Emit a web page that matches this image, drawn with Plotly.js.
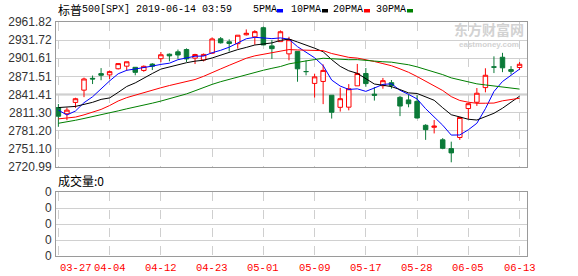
<!DOCTYPE html>
<html><head><meta charset="utf-8">
<script src="https://cdn.plot.ly/plotly-3.0.1.min.js"></script>
<style>html,body{margin:0;padding:0;background:#fff;}#chart{width:578px;height:276px;}</style>
</head><body><div id="chart"></div>
<script>
// ---- data ----
const dates = ['03-27','03-28','03-29','04-01','04-02','04-03','04-04','04-05','04-08','04-09','04-10','04-11','04-12','04-15','04-16','04-17','04-18','04-22','04-23','04-24','04-25','04-26','04-29','04-30','05-01','05-02','05-03','05-06','05-07','05-08','05-09','05-10','05-13','05-14','05-15','05-16','05-17','05-20','05-21','05-22','05-23','05-24','05-28','05-29','05-30','05-31','06-03','06-04','06-05','06-06','06-07','06-10','06-11','06-12','06-13'];
const openP  = [2819.72,2809.40,2828.27,2848.63,2868.24,2876.09,2873.99,2884.16,2888.46,2886.58,2881.37,2891.92,2900.86,2908.32,2912.26,2916.04,2901.80,2898.78,2909.99,2934.00,2928.99,2925.81,2940.58,2937.14,2952.33,2922.16,2929.21,2908.89,2913.03,2879.61,2859.84,2863.10,2840.19,2820.12,2820.38,2855.80,2876.30,2841.94,2856.00,2861.00,2836.70,2832.41,2830.03,2790.25,2786.94,2766.15,2751.53,2770.00,2818.09,2828.51,2852.87,2887.50,2903.27,2882.73,2886.24];
const highP  = [2825.56,2819.71,2836.03,2869.40,2872.90,2885.25,2881.28,2893.24,2895.95,2886.88,2889.71,2893.42,2912.00,2909.60,2916.06,2918.00,2909.00,2909.51,2936.31,2936.83,2933.10,2939.88,2949.52,2948.22,2954.13,2931.68,2947.85,2937.32,2913.03,2897.96,2875.97,2891.31,2840.19,2852.54,2858.68,2892.15,2885.48,2853.86,2868.88,2865.47,2839.00,2841.36,2840.51,2792.03,2799.00,2768.98,2763.07,2804.49,2827.28,2852.10,2884.97,2904.77,2910.61,2888.57,2895.24];
const lowP   = [2787.72,2798.77,2819.23,2837.00,2858.75,2865.17,2867.14,2882.99,2880.78,2873.33,2879.13,2881.99,2895.00,2896.48,2900.71,2895.45,2892.00,2896.35,2908.53,2926.05,2912.84,2917.56,2939.35,2924.11,2923.36,2900.50,2929.21,2898.21,2862.60,2873.28,2836.40,2825.39,2801.43,2813.00,2815.08,2855.80,2854.23,2831.29,2851.00,2851.11,2805.49,2820.19,2801.58,2766.06,2776.74,2750.52,2728.81,2766.00,2800.92,2822.45,2845.00,2877.00,2878.53,2874.68,2881.99];
const closeP = [2805.37,2815.44,2834.40,2867.19,2867.24,2873.40,2879.39,2892.74,2895.77,2878.20,2888.21,2888.32,2907.41,2905.58,2907.06,2900.45,2907.80,2907.97,2933.68,2927.25,2926.17,2939.88,2943.03,2945.83,2923.73,2917.52,2945.64,2932.47,2884.05,2879.42,2870.72,2881.40,2811.87,2834.41,2850.96,2876.32,2859.53,2840.23,2864.36,2856.27,2822.24,2826.06,2802.39,2783.02,2788.86,2752.06,2744.45,2803.27,2826.15,2843.49,2873.34,2886.73,2885.72,2879.84,2891.64];
const ma5  = [2815.4,2807.4,2814.0,2827.8,2837.6,2851.2,2864.0,2875.8,2881.6,2883.8,2886.8,2888.6,2891.4,2893.4,2899.2,2901.6,2905.0,2905.2,2910.8,2914.8,2920.0,2927.0,2934.0,2936.4,2935.8,2934.2,2935.4,2933.2,2920.8,2911.8,2902.4,2889.4,2865.4,2855.4,2849.8,2850.8,2846.6,2852.2,2858.2,2859.2,2848.4,2841.6,2834.0,2817.8,2804.4,2790.4,2774.0,2774.2,2782.8,2793.6,2817.8,2846.4,2863.0,2873.8,2883.6];
const ma10 = [2819.7,2820.4,2821.6,2825.0,2828.4,2833.3,2835.7,2844.9,2854.7,2860.7,2869.0,2876.3,2883.6,2887.5,2891.5,2894.2,2896.8,2898.3,2902.1,2907.0,2910.8,2916.0,2919.6,2923.6,2925.3,2927.1,2931.2,2933.6,2928.6,2923.8,2918.3,2912.4,2899.3,2888.1,2880.8,2876.6,2868.0,2858.8,2856.8,2854.5,2849.6,2844.1,2843.1,2838.0,2831.8,2819.4,2807.8,2804.1,2800.3,2799.0,2804.1,2810.2,2818.6,2828.3,2838.6];
const ma20 = [2800.9,2802.4,2803.9,2807.6,2811.5,2816.6,2823.1,2830.6,2836.2,2840.5,2844.4,2848.4,2852.6,2856.3,2860.0,2863.8,2866.3,2871.6,2878.4,2883.9,2889.9,2896.2,2901.6,2905.6,2908.4,2910.7,2914.0,2916.0,2915.4,2915.4,2914.6,2914.2,2909.5,2905.9,2903.1,2901.9,2899.6,2896.2,2892.7,2889.2,2884.0,2878.3,2871.2,2863.1,2856.3,2848.0,2837.9,2831.5,2828.6,2826.8,2826.9,2827.2,2830.9,2833.2,2835.2];
const ma30 = [2793.6,2795.6,2798.6,2801.6,2804.5,2807.4,2810.9,2814.2,2817.6,2820.4,2823.6,2827.0,2830.5,2834.2,2838.1,2842.4,2847.6,2853.1,2858.2,2862.7,2866.5,2870.9,2874.9,2878.7,2881.7,2884.9,2887.9,2892.3,2895.1,2897.2,2899.4,2901.6,2900.8,2899.7,2899.2,2899.3,2898.7,2896.9,2895.8,2895.1,2892.9,2890.8,2887.3,2883.2,2879.3,2874.4,2869.0,2865.5,2861.9,2859.1,2857.3,2855.6,2853.7,2851.5,2850.4];
const volume = [0,0,0,0,0,0,0,0,0,0,0,0,0,0,0,0,0,0,0,0,0,0,0,0,0,0,0,0,0,0,0,0,0,0,0,0,0,0,0,0,0,0,0,0,0,0,0,0,0,0,0,0,0,0,0];
const yTicks = [2720.99,2751.10,2781.20,2811.30,2841.41,2871.51,2901.61,2931.72,2961.82];
const dateTicks = ['03-27','04-04','04-12','04-23','05-01','05-09','05-17','05-28','06-05','06-13'];
const volTicks = [0,1,2,3,4];
const volTickText = ['0','0','0','0','0'];
const maNames = ['5PMA','10PMA','20PMA','30PMA'];
const maColors = ['#0000ff','#000000','#ff0000','#008000'];
const titleCJK = '标普';
const titleRest = '500[SPX] 2019-06-14 03:59';
const volLabel = '成交量:0';

// ---- layout helpers (pixels -> paper) ----
const W = 578, H = 276, M = {l:56, r:51, t:22, b:20};
const pw = W - M.l - M.r, ph = H - M.t - M.b;
const px = x => (x - M.l) / pw;
const py = y => (H - M.b - y) / ph;

const upColor = '#ff0000', downColor = '#0b7a38';
const traces = [
  {type:'candlestick', x:dates, open:openP, high:highP, low:lowP, close:closeP,
   xaxis:'x', yaxis:'y', whiskerwidth:0, hoverinfo:'skip', showlegend:false,
   increasing:{line:{color:upColor, width:1}, fillcolor:'#ffffff'},
   decreasing:{line:{color:downColor, width:1}, fillcolor:downColor}}
];
[ma5, ma10, ma20, ma30].forEach((m, i) => traces.push({
  type:'scatter', mode:'lines', x:dates, y:m, xaxis:'x', yaxis:'y',
  line:{color:maColors[i], width:1}, hoverinfo:'skip', showlegend:false
}));
traces.push({type:'bar', x:dates, y:volume, xaxis:'x2', yaxis:'y2', marker:{color:'#888', line:{width:0}}, hoverinfo:'skip', showlegend:false});

const xRange = [-0.28, dates.length - 1 + 0.87];
const axisLine = {showline:true, mirror:true, linecolor:'#9a9a9a', linewidth:1, zeroline:false, ticks:'', automargin:false, fixedrange:true};
const tickFont = {family:'Liberation Sans, Arial, sans-serif', size:12, color:'#333'};
const xCommon = Object.assign({}, axisLine, {type:'category', range:xRange, showticklabels:false,
  tickmode:'array', tickvals:dateTicks, showgrid:true, gridcolor:'#cfcfcf', griddash:'dash', gridwidth:1,
  rangeslider:{visible:false}});

const annotations = [
  {xref:'paper', yref:'paper', x:px(57), y:py(10), xanchor:'left', yanchor:'middle', text:titleCJK, showarrow:false, borderpad:0,
   font:{family:'Noto Sans CJK SC', size:12, color:'#000'}},
  {xref:'paper', yref:'paper', x:px(81), y:py(10), xanchor:'left', yanchor:'middle', text:titleRest, showarrow:false, borderpad:0,
   font:{family:'Liberation Mono, monospace', size:10, color:'#000'}},
  {xref:'paper', yref:'paper', x:px(57), y:py(180), xanchor:'left', yanchor:'middle', text:volLabel, showarrow:false, borderpad:0,
   font:{family:'Noto Sans CJK SC', size:12, color:'#000'}},
  {xref:'paper', yref:'paper', x:px(489), y:py(29), xanchor:'center', yanchor:'middle', text:'东方财富网', showarrow:false, borderpad:0,
   font:{family:'Noto Sans CJK SC', size:14, color:'#d2d2d2', weight:'bold'}},
  {xref:'paper', yref:'paper', x:px(489), y:py(44.5), xanchor:'center', yanchor:'middle', text:'eastmoney.com', showarrow:false, borderpad:0,
   font:{family:'Liberation Sans, Arial', size:8, color:'#d2d2d2', weight:'bold'}}
];
const legendX = [252, 290, 332, 375];
const swatchX = [277, 322, 364, 407];
const shapes = [
  {type:'line', xref:'paper', yref:'y', x0:0, x1:1, y0:yTicks[4], y1:yTicks[4], line:{color:'#8a8a8a', width:1.3}, layer:'below'}
];
maNames.forEach((n, i) => {
  annotations.push({xref:'paper', yref:'paper', x:px(legendX[i]), y:py(10), xanchor:'left', yanchor:'middle', text:n,
    showarrow:false, borderpad:0, font:{family:'Liberation Mono, monospace', size:10, color:'#000'}});
  shapes.push({type:'rect', xref:'paper', yref:'paper', x0:px(swatchX[i]), x1:px(swatchX[i] + 6), y0:py(12.5), y1:py(9),
    fillcolor:maColors[i], line:{width:0}});
});
dateTicks.forEach((d, i) => {
  annotations.push({xref:'x2', yref:'paper', x:dates.indexOf(d), y:py(268), xanchor: i === 0 ? 'left' : 'center', xshift: i === 0 ? 1 : 0,
    yanchor:'middle', text:d, showarrow:false, borderpad:0,
    font:{family:'Liberation Mono, monospace', size:10.5, color:'#ff0000'}});
});

const layout = {
  width:W, height:H, margin:M, paper_bgcolor:'#fff', plot_bgcolor:'#fff', showlegend:false,
  font:{family:'Liberation Sans, Arial, sans-serif', size:12, color:'#333'},
  boxgap:0.25,
  xaxis: Object.assign({}, xCommon, {anchor:'y'}),
  xaxis2: Object.assign({}, xCommon, {anchor:'y2', matches:'x'}),
  yaxis: Object.assign({}, axisLine, {domain:[py(167), 1], range:[yTicks[0], yTicks[yTicks.length-1]],
    tickmode:'array', tickvals:yTicks, ticktext:yTicks.map(v => v.toFixed(2)), showgrid:true, gridcolor:'#d0d0d0', gridwidth:1,
    tickfont:tickFont, ticklabelstandoff:1}),
  yaxis2: Object.assign({}, axisLine, {domain:[0, py(192)], range:[volTicks[0], volTicks[volTicks.length-1]],
    tickmode:'array', tickvals:volTicks, ticktext:volTickText, showgrid:true, gridcolor:'#d0d0d0', gridwidth:1,
    tickfont:tickFont, ticklabelstandoff:1}),
  annotations:annotations, shapes:shapes
};
Plotly.newPlot('chart', traces, layout, {staticPlot:true, displayModeBar:false});
</script></body></html>
